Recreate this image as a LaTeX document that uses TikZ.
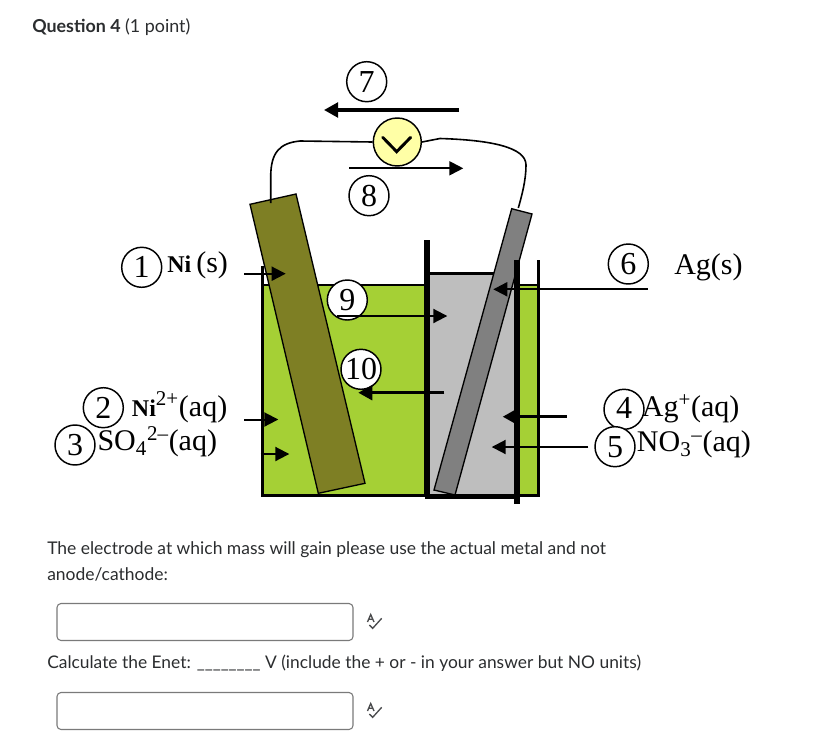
\documentclass[tikz,border=0pt]{standalone}
\usepackage{fontspec}
\setmainfont{Lato}
\newfontfamily\tms{Liberation Serif}
\usetikzlibrary{arrows.meta}
\definecolor{acidgreen}{HTML}{A5D035}
\definecolor{olivebar}{HTML}{7E7F24}
\definecolor{cellgray}{HTML}{BEBEBE}
\definecolor{bargray}{HTML}{808080}
\definecolor{meteryellow}{HTML}{FFFFA6}
\definecolor{pagetext}{HTML}{2B2D2F}
\definecolor{boxedge}{HTML}{7A7A7A}
\tikzset{
  numcirc/.style={circle,draw=black,line width=1.1pt,fill=white,minimum width=30pt,minimum height=30pt,inner sep=0pt,font=\tms\fontsize{24pt}{26pt}\selectfont},
  chem/.style={anchor=base west,inner sep=0pt,font=\tms\fontsize{22.5pt}{24pt}\selectfont},
  page/.style={anchor=base west,inner sep=0pt,text=pagetext,font=\fontsize{13.1pt}{15pt}\selectfont},
  thinptr/.style={draw=black,line width=1.5pt,-{Triangle[length=10.5pt,width=10.5pt]}},
  thickptr/.style={draw=black,line width=2.3pt,-{Triangle[length=10.5pt,width=11pt]}},
  wall/.style={draw=black,line width=4.6pt},
  rim/.style={draw=black,line width=1.9pt},
  answerbox/.style={draw=boxedge,line width=.8pt,rounded corners=3pt,fill=white},
  checkicon/.style={draw=pagetext!85,line width=1pt}
}
\newcommand{\Nib}{\fontsize{18pt}{20pt}\selectfont\bfseries Ni\fontsize{22.5pt}{24pt}\selectfont\mdseries}
\begin{document}
\begin{tikzpicture}[x=.75pt,y=-.75pt]
\useasboundingbox (0,0) rectangle (820,739);
\fill[white] (0,0) rectangle (820,739);
% page text
\node[page,font=\fontsize{13.4pt}{15pt}\selectfont] (q) at (32,32) {\textbf{Question 4} (1 point)};
\node[page] (t1) at (47,554) {The electrode at which mass will gain please use the actual metal and not};
\node[page] (t2) at (47,580) {anode/cathode:};
\node[page,font=\fontsize{13.04pt}{15pt}\selectfont] (t3) at (47,668) {Calculate the Enet: \_\_\_\_\_\_\_\_ V (include the + or - in your answer but NO units)};
% answer boxes
\draw[answerbox] (57,603.5) rectangle (353,640.5);
\draw[answerbox] (57,692.5) rectangle (353,729.5);
\draw[checkicon] (367.5,622) -- (370.7,614.5) -- (374,622) (368.7,619.3) -- (372.8,619.3);
\draw[checkicon] (369.3,625) -- (372.7,628.3) -- (381.7,618.3);
\draw[checkicon] (367.5,711) -- (370.7,703.5) -- (374,711) (368.7,708.3) -- (372.8,708.3);
\draw[checkicon] (369.3,714) -- (372.7,717.3) -- (381.7,707.3);
% solutions
\fill[acidgreen] (262,285) rectangle (538,495.5);
\fill[cellgray] (427,273) rectangle (517,496);
\draw[rim] (262.3,266) -- (262.3,495.5) -- (538.3,495.5) -- (538.3,260);
\draw[rim] (262.3,285) -- (427,285) (517,285) -- (538.3,285);
\draw[rim] (427,273.3) -- (517,273.3);
% electrodes
\draw[draw=black,line width=1pt,fill=olivebar] (250,204.3) -- (296,194) -- (365,483.3) -- (318.3,493.3) -- cycle;
\draw[draw=black,line width=1pt,fill=bargray] (511.7,208.7) -- (532,214) -- (455,495) -- (434,490) -- cycle;
\coordinate (niTop) at (270.7,203);
\coordinate (agTop) at (518.3,208);
% inner beaker walls
\draw[wall] (426.7,240) -- (426.7,497);
\draw[wall] (516.7,260) -- (516.7,504);
\draw[draw=black,line width=3.8pt] (424.5,496.5) -- (519,496.5);
% voltmeter and wire
\node[circle,draw=black,line width=1.1pt,fill=meteryellow,minimum size=36pt,inner sep=0pt] (meter) at (397.3,142) {};
\draw[draw=black,line width=2.2pt,line cap=round] (382.7,137.3) -- (396.7,151.7) -- (410.7,137.3);
\draw[draw=black,line width=1.2pt] (niTop) -- (270.7,177) .. controls (270.7,152) and (280,143) .. (300,141) -- (meter.west);
\draw[draw=black,line width=1.2pt] (meter.east) -- (440,138.5) .. controls (490,140) and (526,147) .. (526,165) .. controls (526,180) and (522,195) .. (agTop);
% numbered circles
\node[numcirc] (n7) at (366.7,81.7) {7};
\node[numcirc] (n8) at (369,195.7) {8};
\node[numcirc] (n1) at (141.7,267.3) {1};
\node[numcirc] (n2) at (103.3,407.7) {2};
\node[numcirc] (n3) at (75,445) {3};
\node[numcirc] (n9) at (347.3,300) {9};
\node[numcirc] (n10) at (361,369.3) {10};
\node[numcirc] (n6) at (628.3,264) {6};
\node[numcirc] (n4) at (624,409.3) {\raisebox{2pt}{4}};
\node[numcirc] (n5) at (615,446.7) {5};
% chemistry labels
\node[chem] (l1) at (167,272.3) {\Nib\,(s)};
\node[chem] (l2) at (131.7,416) {\Nib\textsuperscript{2+}(aq)};
\node[chem] (l3) at (97.3,450.7) {SO\textsubscript{4}\textsuperscript{2–}(aq)};
\node[chem] (l6) at (674,274) {Ag(s)};
\node[chem] (l4) at (641.7,416.7) {Ag\textsuperscript{+}(aq)};
\node[chem] (l5) at (636.7,451.7) {NO\textsubscript{3}\textsuperscript{–}(aq)};
% pointer ends
\coordinate (p7s) at (459,110); \coordinate (p7e) at (324,110);
\coordinate (p8s) at (349,168.3); \coordinate (p8e) at (463.3,168.3);
\coordinate (p1s) at (244,273.7); \coordinate (p1e) at (285.7,273.7);
\coordinate (p2s) at (244,419.5); \coordinate (p2e) at (278.3,419.5);
\coordinate (p3s) at (260.7,454); \coordinate (p3e) at (289.3,454);
\coordinate (p9s) at (337,316); \coordinate (p9e) at (447.3,316);
\coordinate (p10s) at (444.3,392.7); \coordinate (p10e) at (358.3,392.7);
\coordinate (p6s) at (647.7,289.3); \coordinate (p6e) at (493.3,289.3);
\coordinate (p4s) at (566.7,416.7); \coordinate (p4e) at (502.7,416.7);
\coordinate (p5s) at (588.3,447); \coordinate (p5e) at (491.7,447);
\draw[thickptr] (p7s) -- (p7e);
\draw[thinptr] (p8s) -- (p8e);
\draw[thinptr] (p1s) -- (p1e);
\draw[thinptr] (p2s) -- (p2e);
\draw[thinptr] (p3s) -- (p3e);
\draw[thinptr] (p9s) -- (p9e);
\draw[thickptr] (p10s) -- (p10e);
\draw[thinptr] (p6s) -- (p6e);
\draw[thickptr] (p4s) -- (p4e);
\draw[thinptr] (p5s) -- (p5e);
\end{tikzpicture}
\end{document}
